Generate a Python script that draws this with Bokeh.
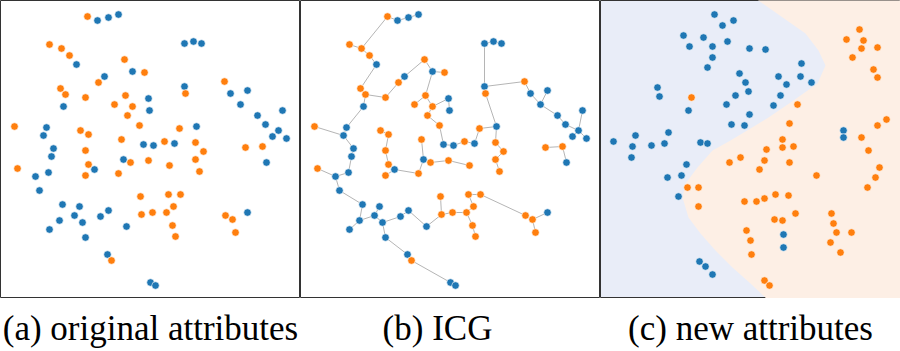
from bokeh.plotting import figure
from bokeh.layouts import column, row
from bokeh.models import Range1d
from bokeh.embed import file_html
from bokeh.resources import INLINE
from bokeh.core.properties import value

BLUE = "#1f77b4"
ORANGE = "#ff7f0e"

# ---- panel (a)/(b): original attribute embedding (0 = blue class, 1 = orange class)
pts_x = [87, 97, 108, 118, 49, 61, 69, 76, 124, 132, 144, 104, 98, 60, 65, 85, 63, 125, 114, 132,
         127, 148, 149, 14, 46, 43, 80, 88, 139, 121, 53, 85, 143, 153, 184, 193, 201, 184, 185, 224,
         230, 247, 240, 257, 265, 282, 278, 272, 286, 179, 196, 164, 174, 195, 203, 245, 262, 51, 88, 94,
         85, 17, 48, 35, 39, 123, 130, 148, 118, 169, 195, 199, 266, 140, 141, 152, 168, 180, 173, 166,
         172, 175, 225, 232, 235, 247, 62, 79, 74, 82, 59, 49, 85, 100, 108, 126, 107, 111, 150, 155]
pts_y = [16, 20, 17, 14, 44, 48, 55, 64, 59, 71, 72, 76, 82, 88, 94, 97, 106, 95, 104, 106,
         115, 98, 110, 126, 127, 135, 130, 134, 125, 139, 148, 150, 144, 145, 43, 41, 43, 86, 93, 81,
         93, 90, 104, 115, 124, 110, 130, 136, 138, 128, 126, 141, 143, 142, 151, 147, 146, 156, 164, 169,
         175, 168, 172, 176, 190, 159, 162, 160, 173, 165, 159, 171, 162, 196, 214, 212, 194, 194, 206, 212,
         225, 236, 215, 219, 232, 212, 204, 206, 215, 222, 220, 229, 237, 216, 210, 226, 254, 260, 282, 285]
pts_cls = [1, 0, 0, 0, 1, 1, 1, 0, 1, 0, 1, 0, 1, 1, 1, 1, 0, 1, 1, 1,
           1, 0, 0, 1, 0, 0, 1, 1, 1, 1, 0, 1, 0, 0, 0, 0, 0, 0, 1, 1,
           0, 0, 0, 0, 0, 0, 0, 0, 0, 1, 0, 1, 0, 1, 1, 1, 1, 0, 1, 0,
           1, 1, 0, 0, 0, 0, 1, 1, 1, 1, 1, 1, 0, 1, 1, 1, 1, 1, 1, 1,
           1, 1, 1, 1, 1, 0, 0, 0, 0, 0, 0, 0, 0, 0, 0, 0, 0, 1, 0, 0]

# ---- panel (b): ICG edges (index pairs into the point list)
edges = [(0, 1), (1, 2), (2, 3), (0, 5), (4, 5), (5, 6), (6, 7), (7, 13), (13, 14), (14, 15),
         (15, 12), (12, 11), (11, 8), (8, 9), (9, 10), (9, 17), (17, 18), (17, 19), (19, 21), (21, 22),
         (19, 20), (20, 28), (28, 32), (32, 33), (14, 16), (16, 24), (24, 25), (23, 25), (25, 30), (30, 57),
         (57, 62), (62, 63), (61, 63), (63, 64), (64, 86), (86, 90), (90, 91), (90, 88), (88, 87), (88, 89),
         (89, 93), (93, 94), (94, 95), (95, 74), (74, 73), (74, 75), (89, 92), (92, 96), (96, 97), (97, 98),
         (98, 99), (26, 27), (27, 31), (31, 58), (58, 59), (60, 59), (59, 68), (68, 65), (65, 29), (65, 66),
         (66, 67), (67, 69), (34, 35), (35, 36), (34, 37), (37, 39), (37, 38), (38, 50), (50, 49), (49, 52),
         (52, 51), (50, 53), (53, 54), (54, 70), (70, 71), (39, 40), (40, 42), (42, 41), (42, 43), (43, 44),
         (44, 46), (46, 45), (46, 47), (46, 48), (55, 56), (56, 72), (76, 77), (76, 78), (77, 82), (75, 79),
         (79, 80), (80, 81), (79, 78), (82, 83), (83, 85), (83, 84), (33, 51)]

# ---- panel (c): new attribute embedding
c_blue_x = [114, 122, 133, 83, 89, 103, 112, 127, 149, 112, 107, 139, 145, 148, 135, 126, 149, 131, 144, 57,
            59, 88, 68, 35, 13, 32, 51, 64, 100, 107, 165, 201, 178, 200, 211, 186, 180, 173, 243, 243,
            31, 86, 67, 81, 78, 99, 105, 112, 183, 183]
c_blue_y = [14, 25, 20, 35, 46, 37, 46, 41, 48, 57, 67, 73, 82, 91, 95, 104, 114, 124, 125, 87,
            96, 110, 132, 135, 141, 146, 145, 143, 142, 143, 49, 63, 76, 76, 82, 84, 95, 105, 130, 137,
            157, 164, 177, 175, 196, 261, 266, 274, 234, 247]
c_orange_x = [91, 197, 189, 182, 182, 193, 166, 259, 246, 263, 261, 277, 252, 273, 277, 286, 277, 261, 268,
              87, 98, 98, 129, 140, 144, 146, 150, 151, 164, 159, 189, 216, 279, 275, 267, 156, 164, 175,
              188, 195, 174, 182, 231, 233, 236, 251, 230, 240, 164, 169]
c_orange_y = [97, 104, 123, 139, 147, 146, 149, 29, 39, 40, 48, 47, 57, 69, 77, 119, 125, 137, 150,
              187, 187, 206, 162, 157, 201, 230, 240, 254, 160, 169, 162, 175, 167, 177, 187, 201, 198, 194,
              195, 213, 219, 220, 213, 223, 232, 232, 242, 252, 280, 285]

# decision boundary of panel (c) (orange region lies to its right)
bound_y = [-2, 33, 50, 65, 83, 100, 117, 128, 140, 150, 167, 183, 197, 217, 233, 250, 267, 283, 300]
bound_x = [155, 205, 218, 225, 217, 193, 168, 150, 130, 112, 97, 85, 82, 88, 100, 115, 132, 150, 168]

captions = ["(a) original attributes", "(b) ICG", "(c) new attributes"]
caption_x = [150, 437, 750]

W, H = 300, 298
CAP_H = 351 - H


def make_panel():
    p = figure(width=W, height=H, x_range=Range1d(0, W), y_range=Range1d(H, 0),
               output_backend="svg", toolbar_location=None, min_border=0)
    p.axis.visible = False
    p.grid.visible = False
    p.outline_line_color = "#333333"
    p.outline_line_width = 1
    return p


def draw_points(p, xs, ys, cls):
    bx = [x for x, c in zip(xs, cls) if c == 0]
    by = [y for y, c in zip(ys, cls) if c == 0]
    ox = [x for x, c in zip(xs, cls) if c == 1]
    oy = [y for y, c in zip(ys, cls) if c == 1]
    p.scatter(bx, by, size=7.5, fill_color=BLUE, line_color="white", line_width=0.6)
    p.scatter(ox, oy, size=7.5, fill_color=ORANGE, line_color="white", line_width=0.6)


pa = make_panel()
draw_points(pa, pts_x, pts_y, pts_cls)

pb = make_panel()
pb.multi_line([[pts_x[i], pts_x[j]] for i, j in edges],
              [[pts_y[i], pts_y[j]] for i, j in edges],
              line_color="#b5b5b5", line_width=1)
draw_points(pb, pts_x, pts_y, pts_cls)

pc = make_panel()
pc.background_fill_color = "#e9edf8"
pc.patch(bound_x + [W + 5, W + 5], bound_y + [bound_y[-1], bound_y[0]],
         fill_color="#fdefe5", line_color=None)
pc.scatter(c_blue_x, c_blue_y, size=7.5, fill_color=BLUE, line_color="white", line_width=0.6)
pc.scatter(c_orange_x, c_orange_y, size=7.5, fill_color=ORANGE, line_color="white", line_width=0.6)

cap = figure(width=900, height=CAP_H, x_range=Range1d(0, 900), y_range=Range1d(0, CAP_H),
             output_backend="svg", toolbar_location=None, min_border=0)
cap.axis.visible = False
cap.grid.visible = False
cap.outline_line_color = None
cap.text(x=caption_x, y=[CAP_H - 30] * 3, text=captions, text_align="center",
         text_baseline="middle", text_font=value("Liberation Serif"),
         text_font_size="35px", text_color="black")

layout = column(row(pa, pb, pc, spacing=0), cap, spacing=0)

open("out.html", "w").write(file_html(layout, INLINE))
